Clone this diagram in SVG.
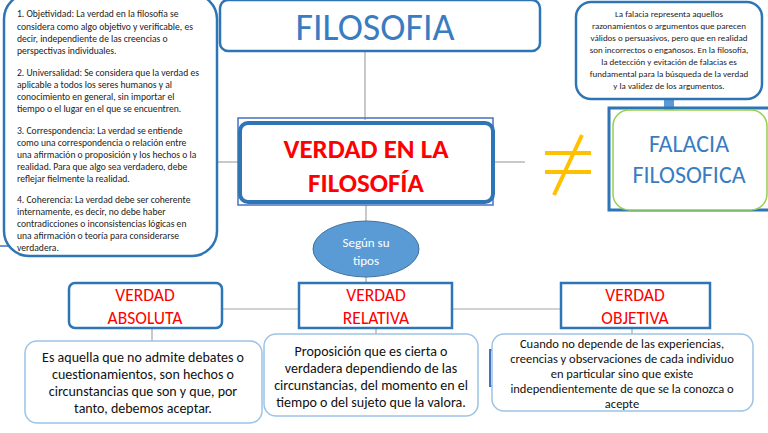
<svg xmlns="http://www.w3.org/2000/svg" width="768" height="433" viewBox="0 0 768 433">
<style>
.b{fill:#fff;stroke:#2e75b6;stroke-width:2.5}
.lb{fill:#fff;stroke:#9dc3e6;stroke-width:1.5}
.c{stroke:#a5a5a5;stroke-width:1.2;fill:none}
.s{font-family:Carlito,"Liberation Sans",sans-serif;font-size:9.6px;fill:#222}
.m{font-family:Carlito,"Liberation Sans",sans-serif;font-size:14px;fill:#111;text-anchor:middle}
.r{font-family:Carlito,"Liberation Sans",sans-serif;font-size:17.5px;fill:#ff0000;text-anchor:middle}
.bl{font-family:Carlito,"Liberation Sans",sans-serif;fill:#3a7cc2;text-anchor:middle}
</style>
<g id="connectors">
<line class="c" x1="365" y1="52" x2="365" y2="120"/>
<line class="c" x1="216" y1="162" x2="238" y2="162"/>
<line class="c" x1="493" y1="162" x2="525" y2="162"/>
<line class="c" x1="366" y1="205" x2="366" y2="221"/>
<line class="c" x1="366" y1="276" x2="366" y2="283"/>
<line class="c" x1="222" y1="309" x2="299" y2="309"/>
<line class="c" x1="452" y1="309" x2="561" y2="309"/>
<line class="c" x1="152" y1="328" x2="152" y2="341"/>
<line class="c" x1="376" y1="328" x2="376" y2="335"/>
<line class="c" x1="632" y1="328" x2="632" y2="335"/>
<rect x="664" y="98" width="10" height="12" fill="#5b9bd5"/>
</g>
<g id="caracteristicas">
<rect x="-2" y="-4" width="14" height="250" fill="#fff" stroke="#4472c4" stroke-width="1.5"/>
<rect class="b" x="4" y="-6" width="213" height="262" rx="25" stroke-width="3"/>
<text class="s" x="17" y="17">1. Objetividad: La verdad en la filosofía se</text>
<text class="s" x="17" y="30">considera como algo objetivo y verificable, es</text>
<text class="s" x="17" y="42">decir, independiente de las creencias o</text>
<text class="s" x="17" y="54">perspectivas individuales.</text>
<text class="s" x="17" y="76">2. Universalidad: Se considera que la verdad es</text>
<text class="s" x="17" y="88">aplicable a todos los seres humanos y al</text>
<text class="s" x="17" y="100">conocimiento en general, sin importar el</text>
<text class="s" x="17" y="112">tiempo o el lugar en el que se encuentren.</text>
<text class="s" x="17" y="134">3. Correspondencia: La verdad se entiende</text>
<text class="s" x="17" y="146">como una correspondencia o relación entre</text>
<text class="s" x="17" y="158">una afirmación o proposición y los hechos o la</text>
<text class="s" x="17" y="170">realidad. Para que algo sea verdadero, debe</text>
<text class="s" x="17" y="182">reflejar fielmente la realidad.</text>
<text class="s" x="17" y="203">4. Coherencia: La verdad debe ser coherente</text>
<text class="s" x="17" y="215">internamente, es decir, no debe haber</text>
<text class="s" x="17" y="227">contradicciones o inconsistencias lógicas en</text>
<text class="s" x="17" y="239">una afirmación o teoría para considerarse</text>
<text class="s" x="17" y="251">verdadera.</text>
</g>
<g id="filosofia">
<rect class="b" x="220" y="0" width="320" height="51" rx="8" stroke-width="2"/>
<text class="bl" x="375" y="40" font-size="38">FILOSOFIA</text>
</g>
<g id="verdad">
<rect x="238" y="118" width="255" height="87" fill="none" stroke="#4472c4" stroke-width="1.5"/>
<rect x="240" y="123" width="253" height="79" rx="8" fill="#fff" stroke="#2e75b6" stroke-width="4"/>
<text x="366" y="158" font-family="Carlito,'Liberation Sans',sans-serif" font-weight="bold" font-size="27" fill="#ff0000" text-anchor="middle">VERDAD EN LA</text>
<text x="366" y="192" font-family="Carlito,'Liberation Sans',sans-serif" font-weight="bold" font-size="27" fill="#ff0000" text-anchor="middle">FILOSOFÍA</text>
</g>
<g id="distinto" stroke="#ffc000" stroke-width="4">
<line x1="545" y1="153" x2="591" y2="153"/>
<line x1="545" y1="172" x2="591" y2="172"/>
<line x1="554" y1="195" x2="582" y2="135"/>
</g>
<g id="falacia-def">
<rect class="b" x="576" y="2" width="186" height="97" rx="15"/>
<g class="s" text-anchor="middle" style="font-size:9px">
<text x="669" y="17">La falacia representa aquellos</text>
<text x="669" y="29">razonamientos o argumentos que parecen</text>
<text x="669" y="41">válidos o persuasivos, pero que en realidad</text>
<text x="669" y="53">son incorrectos o engañosos. En la filosofía,</text>
<text x="669" y="65">la detección y evitación de falacias es</text>
<text x="669" y="77">fundamental para la búsqueda de la verdad</text>
<text x="669" y="89">y la validez de los argumentos.</text>
</g>
</g>
<g id="falacia">
<rect x="609" y="108" width="162" height="102" fill="none" stroke="#2e75b6" stroke-width="3"/>
<rect x="613" y="110" width="154" height="100" rx="16" fill="#fff" stroke="#92d050" stroke-width="1.5"/>
<text class="bl" x="689" y="152" font-size="24">FALACIA</text>
<text class="bl" x="689" y="183" font-size="24">FILOSOFICA</text>
</g>
<g id="segun">
<ellipse cx="366" cy="249" rx="53" ry="28" fill="#5b9bd5" stroke="#41719c"/>
<text x="366" y="247" font-family="Carlito,'Liberation Sans',sans-serif" font-size="13" fill="#fff" text-anchor="middle">Según su</text>
<text x="366" y="265" font-family="Carlito,'Liberation Sans',sans-serif" font-size="13" fill="#fff" text-anchor="middle">tipos</text>
</g>
<g id="absoluta">
<rect class="b" x="69" y="283" width="153" height="45" rx="6" stroke-width="2"/>
<text class="r" x="145" y="301">VERDAD</text>
<text class="r" x="145" y="324">ABSOLUTA</text>
</g>
<g id="relativa">
<rect class="b" x="299" y="283" width="153" height="45" stroke-width="2"/>
<text class="r" x="376" y="301">VERDAD</text>
<text class="r" x="376" y="324">RELATIVA</text>
</g>
<g id="objetiva">
<rect class="b" x="561" y="283" width="149" height="45" stroke-width="2"/>
<text class="r" x="635" y="301">VERDAD</text>
<text class="r" x="635" y="324">OBJETIVA</text>
</g>
<g id="desc-absoluta">
<rect class="lb" x="25" y="341" width="237" height="82" rx="12"/>
<text class="m" x="143" y="362">Es aquella que no admite debates o</text>
<text class="m" x="143" y="379">cuestionamientos, son hechos o</text>
<text class="m" x="143" y="396">circunstancias que son y que, por</text>
<text class="m" x="143" y="413">tanto, debemos aceptar.</text>
</g>
<g id="desc-relativa">
<rect class="lb" x="264" y="334" width="214" height="82" rx="12"/>
<text class="m" x="371" y="356">Proposición que es cierta o</text>
<text class="m" x="371" y="373">verdadera dependiendo de las</text>
<text class="m" x="371" y="390">circunstancias, del momento en el</text>
<text class="m" x="371" y="407">tiempo o del sujeto que la valora.</text>
</g>
<g id="desc-objetiva">
<path d="M494 350 H490 V386 H494" fill="none" stroke="#4472c4" stroke-width="2"/>
<rect class="lb" x="492" y="334" width="261" height="77" rx="12"/>
<g style="font-family:Carlito,'Liberation Sans',sans-serif;font-size:12.5px;fill:#111;text-anchor:middle">
<text x="622" y="348">Cuando no depende de las experiencias,</text>
<text x="622" y="363">creencias y observaciones de cada individuo</text>
<text x="622" y="378">en particular sino que existe</text>
<text x="622" y="393">independientemente de que se la conozca o</text>
<text x="622" y="408">acepte</text>
</g>
</g>
</svg>
